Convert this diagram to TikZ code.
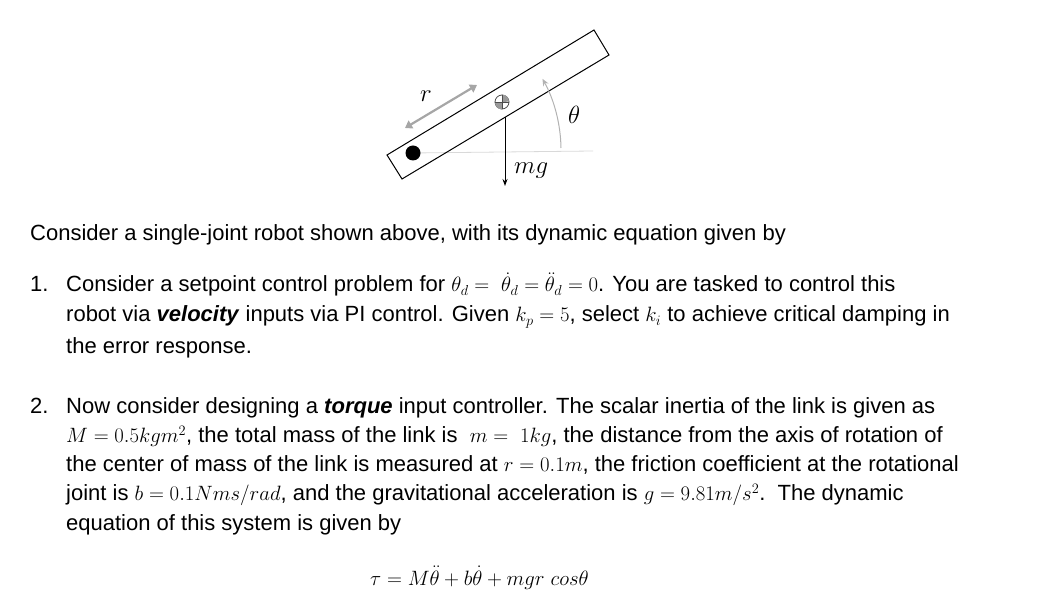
\documentclass[tikz,border=0pt]{standalone}
\usepackage{fontspec}
\setmainfont{Liberation Sans}
\usetikzlibrary{arrows.meta}
\begin{document}
\begin{tikzpicture}[x=1pt,y=-1pt,
  txt/.style={anchor=base west,inner sep=0pt,font=\fontsize{22}{24}\selectfont},
  lbl/.style={anchor=base west,inner sep=0pt,font=\fontsize{30}{32}\selectfont},
  grayarr/.style={gray!70,line width=2.2pt,{Triangle[length=7pt,width=9pt]}-{Triangle[length=7pt,width=9pt]}}]
\useasboundingbox (0,0) rectangle (1037,601);
% figure
\coordinate (pv) at (413,153);
\draw[gray!30,line width=0.8pt] (pv) -- (593,151);
\draw[line width=1pt] (387,155) -- (402,179) -- (609,55) -- (594,30) -- cycle;
\fill (pv) circle (7.5);
\node[circle,draw,gray!60!black,line width=0.8pt,minimum size=14pt,inner sep=0pt] (com) at (502,102) {};
\fill[gray!80] (com.center) -- (com.north) arc (90:0:7pt) -- cycle;
\fill[gray!80] (com.center) -- (com.south) arc (270:180:7pt) -- cycle;
\draw[gray!60!black,line width=0.6pt] (com.north)--(com.south) (com.west)--(com.east);
\coordinate (g0) at (505,117); \coordinate (g1) at (505,186);
\draw[line width=1pt,-{Stealth[length=7pt,width=5pt]}] (g0) -- (g1);
\node[lbl] (mg) at (514,174) {$mg$};
\draw[gray!60,line width=1pt,-{Stealth[length=7pt,width=6pt]}] (561,148) arc[start angle=-1,end angle=-29,radius=148];
\node[lbl] (th) at (568,124) {$\theta$};
\coordinate (r0) at (405,128); \coordinate (r1) at (477,85);
\draw[grayarr] (r0) -- (r1);
\node[lbl] (rl) at (420,102) {$r$};
% text
\node[txt] (l0) at (30,241) {Consider a single-joint robot shown above, with its dynamic equation given by};
\node[txt] (n1) at (30,292) {1.};
\node[txt] (l1) at (66,292) {Consider a setpoint control problem for $\theta_d=\ \dot\theta_d=\ddot\theta_d=0$. You are tasked to control this};
\node[txt] (l2) at (66,322) {robot via \textbf{\itshape velocity} inputs via PI control. Given $k_p=5$, select $k_i$ to achieve critical damping in};
\node[txt] (l3) at (66,354) {the error response.};
\node[txt] (n2) at (30,414) {2.};
\node[txt] (l4) at (66,414) {Now consider designing a \textbf{\itshape torque} input controller. The scalar inertia of the link is given as};
\node[txt] (l5) at (66,443) {$M=0.5kgm^2$, the total mass of the link is \ $m=\ 1kg$, the distance from the axis of rotation of};
\node[txt] (l6) at (66,472) {the center of mass of the link is measured at $r=0.1m$, the friction coefficient at the rotational};
\node[txt] (l7) at (66,501) {joint is $b=0.1Nms/rad$, and the gravitational acceleration is $g=9.81m/s^2$.\ \ The dynamic};
\node[txt] (l8) at (66,531) {equation of this system is given by};
\node[txt] (eq) at (370,585) {$\tau=M\ddot\theta+b\dot\theta+mgr\ cos\theta$};
\end{tikzpicture}
\end{document}
